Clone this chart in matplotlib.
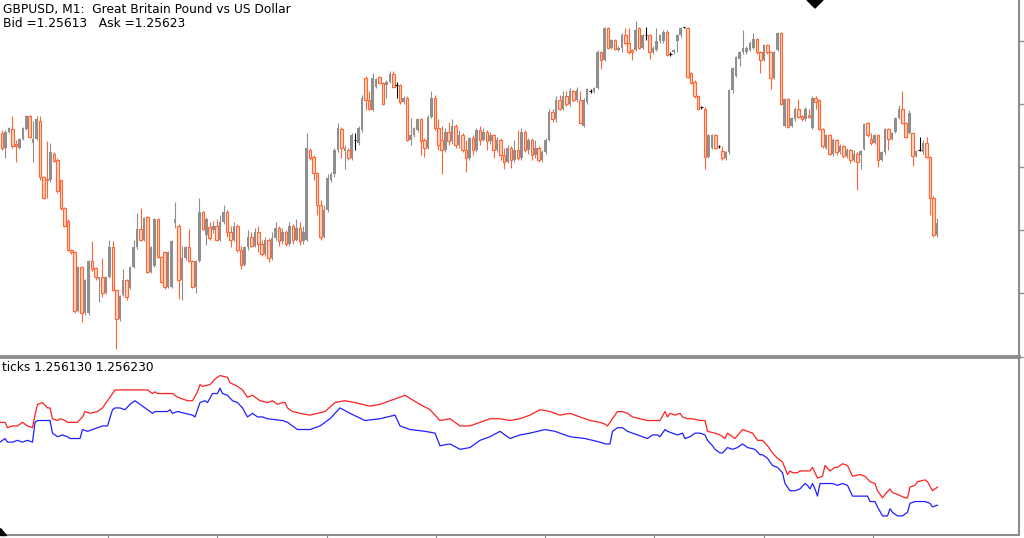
import numpy as np
import matplotlib
matplotlib.use("Agg")
import matplotlib.pyplot as plt
from matplotlib.patches import Polygon

# GBPUSD M1 candles, prices stored as points above BASE
BASE = 1.25500
POINT = 0.00001

open_pts = [
    184, 172, 185, 187, 175, 172, 179, 187, 198, 176,
    179, 194, 148, 146, 145, 167, 162, 145, 122, 112,
    88, 86, 38, 74, 36, 36, 79, 73, 64, 66,
    53, 66, 90, 55, 31, 51, 63, 57, 74, 90,
    105, 96, 115, 70, 75, 113, 82, 86, 58, 58,
    110, 108, 63, 81, 90, 79, 58, 79, 119, 100,
    107, 104, 108, 96, 111, 119, 103, 96, 108, 88,
    76, 90, 99, 91, 103, 93, 85, 96, 81, 98,
    106, 95, 103, 93, 108, 96, 106, 95, 96, 170,
    164, 151, 125, 99, 121, 145, 150, 170, 187, 169,
    170, 163, 178, 176, 186, 229, 211, 203, 222, 230,
    225, 223, 226, 232, 223, 223, 209, 213, 178, 182,
    186, 195, 178, 172, 197, 213, 188, 178, 170, 185,
    177, 190, 174, 182, 170, 163, 180, 170, 186, 178,
    185, 177, 182, 170, 178, 166, 160, 172, 162, 170,
    163, 185, 170, 178, 166, 172, 162, 168, 178, 201,
    195, 211, 204, 214, 208, 218, 211, 211, 190, 209,
    218, 218, 221, 250, 244, 270, 254, 260, 252, 254,
    264, 258, 252, 252, 270, 254, 264, 264, 250, 252,
    259, 259, 267, 249, 250, 259, 264, 271, 270, 233,
    226, 214, 205, 204, 164, 172, 182, 173, 169, 163,
    168, 219, 231, 245, 250, 250, 252, 254, 261, 250,
    244, 256, 250, 229, 252, 266, 190, 212, 190, 195,
    204, 198, 195, 199, 188, 213, 211, 187, 172, 182,
    167, 178, 168, 173, 165, 170, 162, 167, 166, 171,
    192, 179, 176, 182, 162, 168, 187, 179, 185, 196,
    204, 192, 184, 184, 165, 170, 168, 176, 164, 131,
    100]
high_pts = [
    186, 186, 189, 198, 178, 180, 189, 199, 199, 194,
    198, 198, 149, 177, 176, 168, 163, 145, 123, 113,
    89, 87, 75, 75, 64, 80, 95, 74, 66, 81,
    67, 96, 95, 56, 51, 72, 64, 75, 96, 118,
    122, 115, 116, 91, 114, 114, 83, 87, 87, 96,
    127, 109, 91, 91, 105, 80, 80, 131, 120, 115,
    111, 112, 113, 117, 125, 121, 108, 111, 109, 91,
    91, 104, 103, 106, 108, 96, 99, 98, 103, 111,
    108, 106, 104, 111, 109, 113, 111, 108, 184, 172,
    166, 152, 129, 125, 150, 152, 172, 192, 189, 174,
    172, 184, 184, 190, 215, 231, 218, 233, 229, 231,
    226, 227, 235, 235, 226, 224, 214, 214, 196, 189,
    196, 196, 180, 199, 218, 215, 195, 190, 188, 193,
    195, 191, 186, 184, 178, 181, 182, 188, 190, 188,
    186, 185, 183, 181, 180, 172, 174, 173, 178, 186,
    188, 186, 180, 180, 178, 173, 170, 180, 204, 204,
    214, 215, 218, 218, 221, 219, 222, 218, 213, 221,
    220, 222, 252, 251, 271, 271, 261, 261, 255, 266,
    270, 270, 253, 276, 271, 265, 271, 265, 255, 270,
    265, 268, 268, 250, 253, 265, 271, 271, 271, 234,
    227, 215, 206, 205, 183, 183, 183, 174, 173, 169,
    220, 238, 247, 251, 268, 255, 259, 266, 262, 251,
    257, 257, 251, 251, 267, 267, 213, 213, 197, 205,
    212, 199, 205, 204, 214, 214, 212, 188, 183, 183,
    180, 179, 175, 174, 172, 171, 170, 168, 170, 192,
    193, 184, 183, 183, 169, 188, 188, 185, 197, 207,
    218, 193, 203, 185, 170, 181, 178, 181, 165, 132,
    114]
low_pts = [
    170, 163, 184, 172, 160, 171, 178, 186, 180, 160,
    178, 145, 130, 131, 144, 160, 135, 121, 107, 87,
    85, 36, 37, 29, 35, 35, 71, 63, 45, 49,
    52, 65, 54, 7, 30, 50, 47, 56, 73, 89,
    95, 95, 69, 69, 74, 81, 61, 56, 57, 57,
    106, 48, 47, 80, 78, 57, 53, 78, 104, 92,
    96, 102, 95, 95, 109, 99, 90, 95, 86, 72,
    75, 88, 90, 90, 86, 83, 83, 78, 80, 96,
    91, 93, 91, 91, 93, 95, 92, 93, 95, 162,
    145, 117, 96, 98, 119, 144, 148, 168, 163, 154,
    162, 162, 170, 174, 185, 203, 203, 202, 221, 224,
    207, 213, 225, 221, 213, 208, 208, 177, 174, 181,
    185, 166, 164, 171, 196, 186, 170, 150, 168, 174,
    175, 172, 172, 168, 152, 162, 166, 168, 174, 177,
    170, 175, 163, 168, 162, 154, 159, 155, 160, 162,
    162, 168, 167, 162, 163, 160, 160, 167, 177, 193,
    193, 203, 203, 206, 206, 209, 209, 191, 189, 208,
    217, 217, 220, 236, 243, 253, 253, 252, 251, 250,
    257, 249, 244, 251, 253, 253, 260, 245, 249, 251,
    258, 258, 247, 247, 249, 250, 263, 270, 229, 224,
    213, 203, 204, 154, 163, 171, 171, 172, 162, 162,
    167, 217, 230, 239, 249, 249, 251, 253, 249, 233,
    243, 249, 220, 228, 251, 207, 189, 188, 189, 194,
    196, 194, 194, 196, 187, 204, 186, 172, 171, 166,
    165, 166, 167, 163, 163, 159, 160, 137, 154, 170,
    181, 174, 175, 156, 161, 167, 170, 178, 184, 195,
    191, 180, 183, 157, 164, 169, 167, 163, 117, 99,
    99]
close_pts = [
    172, 185, 188, 173, 173, 179, 188, 198, 181, 179,
    195, 148, 131, 145, 168, 161, 136, 122, 108, 88,
    86, 38, 74, 36, 63, 79, 72, 66, 66, 53,
    66, 90, 55, 31, 50, 63, 49, 74, 90, 105,
    96, 114, 70, 90, 113, 82, 62, 58, 86, 95,
    113, 63, 81, 90, 79, 58, 79, 119, 105, 113,
    98, 108, 96, 111, 119, 103, 96, 108, 88, 76,
    90, 99, 91, 103, 93, 85, 96, 81, 98, 106,
    95, 103, 93, 108, 96, 106, 95, 103, 172, 163,
    151, 125, 99, 121, 147, 150, 170, 188, 172, 172,
    163, 182, 178, 188, 213, 211, 204, 229, 228, 225,
    208, 226, 232, 222, 223, 209, 213, 178, 182, 188,
    195, 177, 172, 197, 213, 188, 174, 170, 185, 177,
    190, 174, 182, 170, 163, 180, 170, 186, 178, 185,
    177, 182, 170, 178, 166, 160, 172, 162, 170, 163,
    185, 170, 178, 166, 172, 162, 168, 178, 201, 195,
    211, 204, 214, 208, 218, 211, 219, 192, 211, 220,
    218, 221, 250, 244, 270, 254, 260, 253, 254, 264,
    258, 250, 250, 268, 254, 264, 264, 250, 254, 259,
    264, 267, 248, 249, 252, 264, 270, 271, 230, 225,
    214, 204, 205, 164, 182, 182, 172, 173, 163, 168,
    219, 237, 246, 250, 254, 254, 258, 261, 250, 244,
    256, 250, 229, 250, 266, 208, 212, 189, 196, 204,
    197, 195, 204, 197, 213, 209, 187, 173, 182, 167,
    178, 168, 173, 165, 170, 162, 167, 160, 169, 191,
    182, 176, 182, 162, 168, 187, 179, 184, 196, 204,
    192, 181, 200, 165, 169, 170, 176, 164, 131, 100,
    110]

# tick chart: (tick number, points above BASE)
ask_n = [0, 2, 3, 5, 7, 9, 11, 13, 14, 15, 17, 19, 20, 21, 23, 24, 26, 27, 29, 31,
         33, 34, 36, 39, 41, 42, 44, 46, 59, 61, 62, 63, 69, 71, 73, 75, 77, 79, 80, 81,
         84, 86, 88, 91, 92, 95, 97, 99, 101, 102, 104, 107, 109, 111, 113, 114, 115, 117, 120, 124,
         130, 134, 138, 142, 148, 152, 158, 162, 168, 172, 176, 180, 184, 188, 192, 196, 200, 204, 208, 212,
         216, 220, 224, 228, 232, 236, 240, 242, 243, 245, 247, 249, 251, 253, 256, 259, 264, 266, 267, 268,
         270, 272, 273, 275, 277, 280, 282, 283, 286, 288, 290, 291, 293, 294, 297, 299, 301, 303, 305, 307,
         309, 311, 313, 315, 316, 317, 319, 320, 324, 325, 327, 329, 330, 332, 334, 335, 337, 339, 341, 344,
         346, 348, 350, 351, 353, 354, 356, 357, 359, 362, 363, 364, 366, 367, 370, 371, 373, 375]
ask_pts = [159, 159, 156, 157, 157, 159, 157, 156, 163, 169, 170, 167, 167, 161, 160, 161, 160, 159, 159, 159,
           162, 165, 164, 165, 167, 169, 173, 177, 177, 175, 176, 175, 175, 173, 172, 171, 171, 176, 180, 179,
           180, 183, 185, 184, 181, 179, 177, 173, 174, 173, 171, 170, 171, 169, 170, 170, 167, 165, 164, 163,
           165, 170, 171, 170, 168, 169, 172, 174, 169, 166, 160, 161, 157, 157, 159, 161, 161, 160, 161, 163,
           166, 165, 163, 164, 162, 160, 159, 158, 157, 161, 165, 165, 164, 162, 161, 160, 160, 165, 162, 164,
           163, 164, 162, 161, 161, 160, 160, 154, 153, 152, 150, 153, 151, 150, 155, 154, 153, 149, 149, 146,
           142, 139, 137, 130, 132, 131, 131, 132, 132, 134, 128, 129, 135, 132, 134, 134, 136, 135, 129, 130,
           129, 126, 125, 121, 117, 119, 122, 120, 119, 117, 117, 123, 124, 126, 127, 126, 121, 123]
bid_n = [0, 2, 3, 5, 7, 9, 11, 13, 14, 15, 20, 21, 23, 25, 27, 28, 30, 32, 33, 35,
         37, 39, 41, 43, 45, 46, 48, 50, 52, 54, 56, 59, 61, 62, 64, 67, 68, 69, 71, 74,
         77, 78, 80, 82, 83, 85, 87, 88, 89, 91, 93, 95, 97, 99, 101, 103, 105, 107, 113, 115,
         117, 119, 120, 124, 128, 132, 136, 140, 146, 152, 158, 160, 164, 170, 174, 176, 180, 184, 188, 192,
         196, 200, 204, 208, 212, 218, 222, 228, 234, 240, 242, 244, 245, 247, 249, 251, 253, 255, 257, 259,
         261, 263, 264, 266, 267, 269, 271, 273, 274, 276, 278, 280, 282, 283, 285, 286, 288, 289, 291, 293,
         295, 297, 299, 302, 304, 305, 307, 309, 311, 313, 314, 316, 318, 320, 322, 323, 324, 325, 326, 327,
         328, 331, 333, 335, 337, 339, 341, 343, 345, 347, 348, 350, 351, 353, 355, 356, 357, 359, 361, 363,
         364, 366, 370, 372, 373, 375]
bid_pts = [148, 150, 148, 148, 149, 148, 149, 148, 159, 160, 160, 153, 151, 152, 151, 150, 150, 150, 155, 154,
           155, 156, 157, 157, 166, 167, 167, 166, 169, 171, 169, 166, 164, 165, 165, 165, 166, 164, 165, 164,
           163, 162, 170, 171, 170, 175, 175, 178, 175, 174, 171, 170, 167, 162, 164, 162, 162, 161, 160, 159,
           157, 155, 155, 155, 157, 161, 167, 164, 160, 161, 163, 157, 155, 154, 153, 146, 147, 144, 145, 149,
           151, 154, 150, 152, 153, 155, 154, 151, 150, 148, 147, 147, 154, 156, 156, 154, 153, 152, 151, 150,
           152, 152, 151, 155, 154, 153, 152, 153, 150, 151, 153, 153, 152, 149, 146, 144, 142, 142, 145, 144,
           145, 147, 145, 144, 141, 141, 139, 135, 134, 131, 125, 121, 121, 122, 125, 124, 122, 125, 122, 118,
           125, 125, 125, 124, 125, 124, 118, 118, 118, 118, 115, 115, 112, 107, 107, 111, 109, 107, 107, 109,
           114, 115, 115, 114, 112, 113]

price_ticks = [259, 208, 156, 104, 53]   # points above BASE, right-hand tick marks

ORANGE = "#ff6633"
BEAR_FILL = "#ffd2bf"
GRAY = "#8f8f8f"
FRAME = "#8c8c8c"

o = BASE + np.array(open_pts) * POINT
h = BASE + np.array(high_pts) * POINT
l = BASE + np.array(low_pts) * POINT
c = BASE + np.array(close_pts) * POINT
x = np.arange(len(o))
bull = c > o
bear = c < o
doji = c == o

fig = plt.figure(figsize=(10.24, 5.38), dpi=100)
ax = fig.add_axes([0, 182 / 538, 1019 / 1024, 356 / 538])
tax = fig.add_axes([0, 3 / 538, 1019 / 1024, 178 / 538])

w = 0.74
# bull candles: gray filled
ax.vlines(x[bull], l[bull], h[bull], color=GRAY, lw=0.8, zorder=1)
ax.bar(x[bull], c[bull] - o[bull], bottom=o[bull], width=w, color=GRAY, lw=0, zorder=2)
# bear candles: orange outline
ax.vlines(x[bear], l[bear], h[bear], color=ORANGE, lw=0.8, zorder=1)
ax.bar(x[bear], o[bear] - c[bear], bottom=c[bear], width=w, facecolor=BEAR_FILL,
       edgecolor=ORANGE, lw=0.8, zorder=2)
# doji
ax.vlines(x[doji], l[doji], h[doji], color="black", lw=0.8, zorder=1)
ax.hlines(o[doji], x[doji] - w / 2, x[doji] + w / 2, color="black", lw=0.8, zorder=2)

ax.set_xlim(-0.58, 293.7)
ax.set_ylim(BASE + 1 * POINT, BASE + 293 * POINT)
ax.set_yticks([BASE + p * POINT for p in price_ticks])
ax.yaxis.tick_right()
ax.tick_params(axis="y", direction="out", length=5, width=1, color=FRAME, labelright=False)
ax.set_xticks([])
for s in ["top", "left"]:
    ax.spines[s].set_visible(False)
ax.spines["right"].set_color(FRAME)
ax.spines["right"].set_linewidth(1.5)
ax.spines["bottom"].set_color(FRAME)
ax.spines["bottom"].set_linewidth(2)

# ticks window
tax.plot(ask_n, BASE + np.array(ask_pts) * POINT, color="#ff2020", lw=0.9)
tax.plot(bid_n, BASE + np.array(bid_pts) * POINT, color="#2020ff", lw=0.9)
tax.set_xlim(0, 407.6)
tax.set_ylim(BASE + 96.4 * POINT, BASE + 195.3 * POINT)
tax.set_yticks([BASE + 195.3 * POINT])
tax.yaxis.tick_right()
tax.tick_params(axis="y", direction="out", length=5, color=FRAME, labelright=False)
tax.set_xticks(np.arange(1, 9) * 43.7 - 0.5)
tax.tick_params(axis="x", direction="out", length=3, color=FRAME, labelbottom=False)
tax.spines["left"].set_visible(False)
for s in ["top", "right", "bottom"]:
    tax.spines[s].set_color(FRAME)
    tax.spines[s].set_linewidth(1.5)
tax.spines["top"].set_linewidth(2)

# labels
fig.text(3 / 1024, 1 - 3 / 538, "GBPUSD, M1:  Great Britain Pound vs US Dollar",
         ha="left", va="top", fontsize=8.8, color="black")
fig.text(3 / 1024, 1 - 17 / 538, "Bid =1.25613   Ask =1.25623",
         ha="left", va="top", fontsize=8.8, color="black")
fig.text(2 / 1024, 1 - 361 / 538, "ticks 1.256130 1.256230",
         ha="left", va="top", fontsize=8.7, color="black")

# chart shift marker and corner marker
fig.add_artist(Polygon([[807 / 1024, 1.0], [823 / 1024, 1.0], [815 / 1024, 1 - 8 / 538]],
                       closed=True, color="black", transform=fig.transFigure))
fig.add_artist(Polygon([[0, 1 - 528 / 538], [0, 1 - 535 / 538], [6 / 1024, 1 - 535 / 538]],
                       closed=True, color="black", transform=fig.transFigure))

fig.savefig("out.png", dpi=100)
